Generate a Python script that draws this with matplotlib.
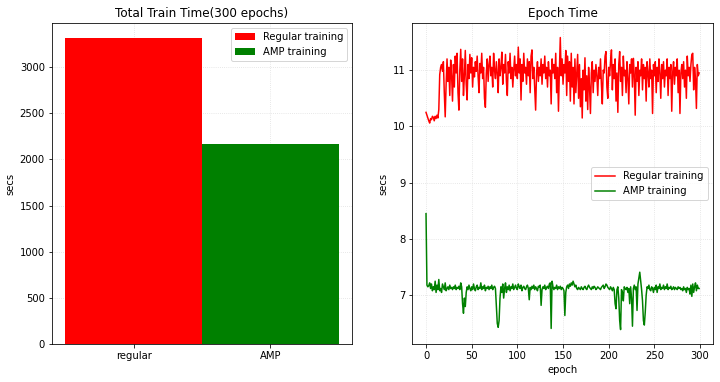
import numpy as np
from matplotlib import pyplot as plt

# totals (secs)
bar_labels = ['regular', 'AMP']
total_regular = 3310
total_amp = 2168

# per-epoch time, regular training
regular_epoch = [
    10.25, 10.20, 10.15, 10.10, 10.06, 10.14, 10.12, 10.18, 10.16, 10.10,
    10.18, 10.14, 10.20, 10.15, 10.30, 10.92, 11.05, 11.10, 10.98, 11.15,
    10.60, 10.17, 10.75, 11.20, 10.80, 11.05, 10.55, 11.18, 10.90, 10.45,
    11.10, 10.70, 11.25, 10.95, 11.30, 10.60, 10.29, 11.00, 11.37, 10.80,
    11.20, 10.55, 10.90, 11.35, 10.75, 10.47, 11.10, 10.85, 11.28, 10.95,
    11.22, 10.70, 11.05, 10.88, 11.15, 10.98, 11.25, 10.90, 10.60, 11.12,
    10.95, 11.30, 10.85, 11.05, 10.50, 10.34, 10.95, 11.20, 10.80, 11.10,
    11.25, 10.90, 11.05, 10.70, 11.30, 11.00, 10.85, 11.15, 10.95, 10.60,
    11.20, 10.90, 11.05, 11.32, 10.75, 11.10, 10.95, 11.28, 10.80, 10.55,
    11.15, 10.95, 11.30, 10.85, 11.05, 10.70, 11.00, 11.25, 10.90, 11.10,
    10.85, 11.41, 10.95, 11.20, 10.47, 11.10, 10.80, 11.30, 10.95, 11.05,
    10.75, 11.20, 10.90, 11.15, 10.60, 11.25, 11.36, 10.85, 11.05, 10.65,
    10.29, 10.95, 11.15, 10.80, 11.05, 10.90, 11.20, 10.75, 11.10, 10.95,
    11.25, 10.85, 11.05, 10.70, 11.15, 10.90, 11.00, 10.40, 11.20, 10.95,
    11.10, 10.85, 11.30, 10.60, 11.05, 10.27, 11.00, 11.58, 10.90, 11.20,
    10.75, 11.10, 10.95, 11.35, 10.55, 11.25, 10.80, 11.15, 10.45, 11.30,
    10.70, 11.05, 10.40, 11.20, 10.60, 10.95, 11.28, 10.50, 11.10, 10.35,
    10.85, 10.15, 11.00, 10.65, 11.22, 10.45, 10.90, 10.30, 11.05, 10.70,
    10.23, 10.95, 11.15, 10.60, 11.00, 10.80, 11.10, 10.90, 10.55, 11.05,
    10.85, 11.20, 10.75, 10.40, 11.00, 10.95, 11.25, 11.33, 10.70, 10.50,
    11.05, 10.90, 11.15, 11.36, 10.65, 11.10, 10.85, 11.20, 10.45, 10.95,
    10.25, 11.10, 11.33, 10.80, 11.05, 10.55, 11.25, 10.90, 11.00, 10.60,
    11.15, 10.85, 10.40, 11.10, 10.95, 11.20, 10.70, 11.21, 10.90, 10.20,
    11.05, 10.80, 11.15, 10.55, 11.00, 10.90, 11.20, 10.65, 11.10, 10.85,
    11.05, 10.45, 11.15, 10.95, 10.70, 11.20, 10.85, 11.00, 10.23, 11.10,
    10.90, 11.15, 10.60, 11.05, 10.80, 11.20, 10.95, 10.50, 11.10, 10.85,
    11.15, 10.70, 11.00, 10.90, 11.20, 10.55, 11.05, 10.85, 11.10, 10.27,
    10.95, 11.15, 10.75, 11.05, 10.90, 11.20, 10.60, 11.00, 10.23, 10.95,
    11.10, 10.85, 11.15, 10.70, 11.00, 10.50, 11.25, 10.90, 11.05, 10.80,
    11.10, 11.28, 11.30, 10.65, 11.05, 10.85, 10.32, 11.10, 10.90, 10.95,
]

# per-epoch time, AMP training
amp_epoch = [
    8.45, 7.18, 7.15, 7.17, 7.22, 7.12, 7.20, 7.08, 7.15, 7.10,
    7.25, 7.05, 7.18, 7.10, 7.28, 7.08, 7.12, 7.05, 7.20, 7.15,
    7.10, 7.22, 7.08, 7.12, 7.15, 7.10, 7.18, 7.12, 7.14, 7.10,
    7.15, 7.12, 7.18, 7.10, 7.14, 7.12, 7.16, 7.10, 7.22, 7.15,
    6.85, 6.68, 6.95, 6.80, 7.05, 7.15, 7.10, 7.18, 7.12, 7.08,
    7.15, 7.10, 7.20, 7.12, 7.08, 7.15, 7.18, 7.10, 7.14, 7.12,
    7.22, 7.10, 7.15, 7.12, 7.18, 7.08, 7.14, 7.12, 7.16, 7.10,
    7.15, 7.12, 7.18, 7.10, 7.14, 7.16, 7.12, 6.80, 6.50, 6.43,
    6.55, 6.95, 7.15, 7.05, 7.20, 6.95, 7.12, 7.22, 7.05, 7.15,
    7.10, 7.18, 7.08, 7.15, 7.12, 7.20, 7.10, 7.14, 7.18, 7.12,
    7.10, 7.20, 7.15, 7.12, 7.18, 7.08, 7.14, 7.16, 7.12, 7.10,
    7.15, 7.18, 7.12, 6.92, 7.14, 7.10, 7.16, 7.12, 7.18, 7.10,
    7.15, 7.12, 7.08, 7.16, 7.14, 7.18, 6.82, 7.10, 7.15, 7.12,
    7.18, 7.10, 7.14, 7.16, 7.12, 7.20, 7.22, 6.41, 7.25, 7.15,
    7.10, 7.14, 7.12, 7.18, 7.10, 7.15, 7.12, 7.16, 7.10, 7.14,
    7.12, 7.08, 6.64, 7.05, 7.15, 7.18, 7.12, 7.20, 7.16, 7.22,
    7.18, 7.25, 7.20, 7.15, 7.18, 7.12, 7.10, 7.14, 7.12, 7.10,
    7.15, 7.12, 7.10, 7.14, 7.16, 7.12, 7.10, 7.15, 7.18, 7.14,
    7.12, 7.10, 7.15, 7.12, 7.16, 7.14, 7.10, 7.12, 7.15, 7.13,
    7.12, 7.10, 7.14, 7.16, 7.18, 7.12, 7.15, 7.20, 7.18, 7.14,
    7.12, 7.10, 7.15, 7.12, 7.08, 7.14, 7.10, 6.85, 6.76, 7.10,
    7.15, 6.95, 6.55, 6.39, 7.10, 7.05, 6.90, 7.15, 7.12, 7.10,
    7.14, 7.05, 7.12, 6.85, 7.15, 6.95, 6.45, 7.12, 7.18, 7.10,
    7.15, 6.73, 7.20, 7.30, 7.41, 7.25, 7.10, 6.90, 6.55, 6.47,
    6.70, 7.00, 7.15, 7.12, 7.18, 7.10, 7.08, 7.15, 7.12, 7.05,
    7.14, 7.10, 7.18, 7.05, 7.15, 7.12, 7.20, 7.10, 7.14, 7.12,
    7.18, 7.10, 7.15, 7.12, 7.20, 7.10, 7.14, 7.12, 7.16, 7.10,
    7.12, 7.15, 7.10, 7.14, 7.12, 7.10, 7.15, 7.12, 7.14, 7.10,
    7.12, 7.08, 7.15, 7.10, 7.12, 7.05, 7.14, 7.10, 7.12, 7.02,
    7.18, 6.98, 7.20, 7.05, 7.15, 7.22, 7.08, 7.18, 7.12, 7.12,
]


def main():
    fig, (ax1, ax2) = plt.subplots(1, 2, figsize=(10, 382 / 72), dpi=72)
    fig.subplots_adjust(left=0.072, right=0.99, top=0.94, bottom=0.099, wspace=0.2)

    # left: total time bars
    ax1.bar(bar_labels[0], total_regular, width=1.0, color='red', label='Regular training')
    ax1.bar(bar_labels[1], total_amp, width=1.0, color='green', label='AMP training')
    ax1.set_title('Total Train Time(300 epochs)')
    ax1.set_ylabel('secs')
    ax1.grid(True, linestyle=':', color='#dddddd')
    ax1.set_axisbelow(True)
    ax1.legend(loc='upper right')

    # right: per epoch time
    epochs = np.arange(len(regular_epoch))
    ax2.plot(epochs, regular_epoch, color='red', linewidth=1.5, label='Regular training')
    ax2.plot(epochs, amp_epoch, color='green', linewidth=1.5, label='AMP training')
    ax2.set_title('Epoch Time')
    ax2.set_xlabel('epoch')
    ax2.set_ylabel('secs')
    ax2.grid(True, linestyle=':', color='#dddddd')
    ax2.legend(loc='center right')

    fig.savefig('out.png', dpi=72)


if __name__ == '__main__':
    main()
